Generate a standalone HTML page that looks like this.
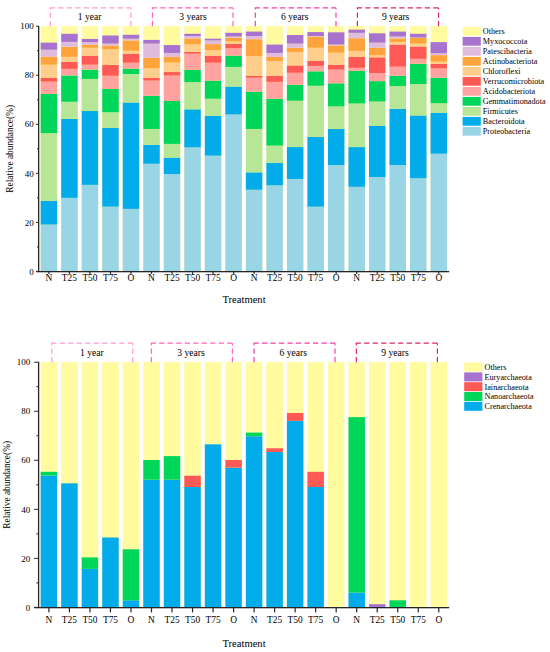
<!DOCTYPE html>
<html><head><meta charset="utf-8"><style>
html,body{margin:0;padding:0;background:#fff;}
svg{display:block;}
text{font-family:"Liberation Serif", serif;fill:#000;}
</style></head><body>
<svg width="550" height="652" viewBox="0 0 550 652">
<rect width="550" height="652" fill="#fff"/>
<rect x="40.65" y="26.2" width="16.5" height="245.2" fill="#fffb9e"/>
<rect x="40.65" y="224.57" width="16.5" height="46.83" fill="#9ad5e6"/>
<rect x="40.65" y="200.78" width="16.5" height="23.78" fill="#02abea"/>
<rect x="40.65" y="133.11" width="16.5" height="67.68" fill="#b7e697"/>
<rect x="40.65" y="93.88" width="16.5" height="39.23" fill="#00d75a"/>
<rect x="40.65" y="81.62" width="16.5" height="12.26" fill="#ffa2a0"/>
<rect x="40.65" y="77.69" width="16.5" height="3.92" fill="#ff5955"/>
<rect x="40.65" y="64.7" width="16.5" height="13" fill="#ffcd8c"/>
<rect x="40.65" y="56.6" width="16.5" height="8.09" fill="#ffa43c"/>
<rect x="40.65" y="49.74" width="16.5" height="6.87" fill="#dfbcdf"/>
<rect x="40.65" y="42.63" width="16.5" height="7.11" fill="#a872cf"/>
<rect x="61.17" y="26.2" width="16.5" height="245.2" fill="#fffb9e"/>
<rect x="61.17" y="197.84" width="16.5" height="73.56" fill="#9ad5e6"/>
<rect x="61.17" y="118.89" width="16.5" height="78.95" fill="#02abea"/>
<rect x="61.17" y="101.72" width="16.5" height="17.16" fill="#b7e697"/>
<rect x="61.17" y="75.49" width="16.5" height="26.24" fill="#00d75a"/>
<rect x="61.17" y="68.86" width="16.5" height="6.62" fill="#ffa2a0"/>
<rect x="61.17" y="62" width="16.5" height="6.87" fill="#ff5955"/>
<rect x="61.17" y="56.85" width="16.5" height="5.15" fill="#ffcd8c"/>
<rect x="61.17" y="46.8" width="16.5" height="10.05" fill="#ffa43c"/>
<rect x="61.17" y="41.89" width="16.5" height="4.9" fill="#dfbcdf"/>
<rect x="61.17" y="33.8" width="16.5" height="8.09" fill="#a872cf"/>
<rect x="81.69" y="26.2" width="16.5" height="245.2" fill="#fffb9e"/>
<rect x="81.69" y="184.84" width="16.5" height="86.56" fill="#9ad5e6"/>
<rect x="81.69" y="111.04" width="16.5" height="73.81" fill="#02abea"/>
<rect x="81.69" y="78.92" width="16.5" height="32.12" fill="#b7e697"/>
<rect x="81.69" y="69.6" width="16.5" height="9.32" fill="#00d75a"/>
<rect x="81.69" y="64.7" width="16.5" height="4.9" fill="#ffa2a0"/>
<rect x="81.69" y="55.62" width="16.5" height="9.07" fill="#ff5955"/>
<rect x="81.69" y="47.78" width="16.5" height="7.85" fill="#ffcd8c"/>
<rect x="81.69" y="44.84" width="16.5" height="2.94" fill="#ffa43c"/>
<rect x="81.69" y="42.14" width="16.5" height="2.7" fill="#dfbcdf"/>
<rect x="81.69" y="38.95" width="16.5" height="3.19" fill="#a872cf"/>
<rect x="102.21" y="26.2" width="16.5" height="245.2" fill="#fffb9e"/>
<rect x="102.21" y="206.67" width="16.5" height="64.73" fill="#9ad5e6"/>
<rect x="102.21" y="127.71" width="16.5" height="78.95" fill="#02abea"/>
<rect x="102.21" y="112.27" width="16.5" height="15.45" fill="#b7e697"/>
<rect x="102.21" y="88.97" width="16.5" height="23.29" fill="#00d75a"/>
<rect x="102.21" y="75.73" width="16.5" height="13.24" fill="#ffa2a0"/>
<rect x="102.21" y="64.94" width="16.5" height="10.79" fill="#ff5955"/>
<rect x="102.21" y="49.25" width="16.5" height="15.69" fill="#ffcd8c"/>
<rect x="102.21" y="45.57" width="16.5" height="3.68" fill="#ffa43c"/>
<rect x="102.21" y="43.61" width="16.5" height="1.96" fill="#dfbcdf"/>
<rect x="102.21" y="35.52" width="16.5" height="8.09" fill="#a872cf"/>
<rect x="122.73" y="26.2" width="16.5" height="245.2" fill="#fffb9e"/>
<rect x="122.73" y="208.87" width="16.5" height="62.53" fill="#9ad5e6"/>
<rect x="122.73" y="102.46" width="16.5" height="106.42" fill="#02abea"/>
<rect x="122.73" y="74.01" width="16.5" height="28.44" fill="#b7e697"/>
<rect x="122.73" y="68.62" width="16.5" height="5.39" fill="#00d75a"/>
<rect x="122.73" y="62.73" width="16.5" height="5.88" fill="#ffa2a0"/>
<rect x="122.73" y="53.66" width="16.5" height="9.07" fill="#ff5955"/>
<rect x="122.73" y="50.72" width="16.5" height="2.94" fill="#ffcd8c"/>
<rect x="122.73" y="40.42" width="16.5" height="10.3" fill="#ffa43c"/>
<rect x="122.73" y="38.71" width="16.5" height="1.72" fill="#dfbcdf"/>
<rect x="122.73" y="34.78" width="16.5" height="3.92" fill="#a872cf"/>
<rect x="143.25" y="26.2" width="16.5" height="245.2" fill="#fffb9e"/>
<rect x="143.25" y="163.76" width="16.5" height="107.64" fill="#9ad5e6"/>
<rect x="143.25" y="144.88" width="16.5" height="18.88" fill="#02abea"/>
<rect x="143.25" y="128.94" width="16.5" height="15.94" fill="#b7e697"/>
<rect x="143.25" y="95.84" width="16.5" height="33.1" fill="#00d75a"/>
<rect x="143.25" y="80.63" width="16.5" height="15.2" fill="#ffa2a0"/>
<rect x="143.25" y="77.69" width="16.5" height="2.94" fill="#ff5955"/>
<rect x="143.25" y="68.37" width="16.5" height="9.32" fill="#ffcd8c"/>
<rect x="143.25" y="57.83" width="16.5" height="10.54" fill="#ffa43c"/>
<rect x="143.25" y="43.61" width="16.5" height="14.22" fill="#dfbcdf"/>
<rect x="143.25" y="39.93" width="16.5" height="3.68" fill="#a872cf"/>
<rect x="163.77" y="26.2" width="16.5" height="245.2" fill="#fffb9e"/>
<rect x="163.77" y="174.06" width="16.5" height="97.34" fill="#9ad5e6"/>
<rect x="163.77" y="157.63" width="16.5" height="16.43" fill="#02abea"/>
<rect x="163.77" y="143.9" width="16.5" height="13.73" fill="#b7e697"/>
<rect x="163.77" y="100.99" width="16.5" height="42.91" fill="#00d75a"/>
<rect x="163.77" y="75.49" width="16.5" height="25.5" fill="#ffa2a0"/>
<rect x="163.77" y="72.05" width="16.5" height="3.43" fill="#ff5955"/>
<rect x="163.77" y="62.49" width="16.5" height="9.56" fill="#ffcd8c"/>
<rect x="163.77" y="56.85" width="16.5" height="5.64" fill="#ffa43c"/>
<rect x="163.77" y="52.93" width="16.5" height="3.92" fill="#dfbcdf"/>
<rect x="163.77" y="45.08" width="16.5" height="7.85" fill="#a872cf"/>
<rect x="184.29" y="26.2" width="16.5" height="245.2" fill="#fffb9e"/>
<rect x="184.29" y="147.33" width="16.5" height="124.07" fill="#9ad5e6"/>
<rect x="184.29" y="109.32" width="16.5" height="38.01" fill="#02abea"/>
<rect x="184.29" y="82.11" width="16.5" height="27.22" fill="#b7e697"/>
<rect x="184.29" y="69.85" width="16.5" height="12.26" fill="#00d75a"/>
<rect x="184.29" y="53.66" width="16.5" height="16.18" fill="#ffa2a0"/>
<rect x="184.29" y="51.95" width="16.5" height="1.72" fill="#ff5955"/>
<rect x="184.29" y="44.34" width="16.5" height="7.6" fill="#ffcd8c"/>
<rect x="184.29" y="38.46" width="16.5" height="5.88" fill="#ffa43c"/>
<rect x="184.29" y="36.01" width="16.5" height="2.45" fill="#dfbcdf"/>
<rect x="184.29" y="33.8" width="16.5" height="2.21" fill="#a872cf"/>
<rect x="204.81" y="26.2" width="16.5" height="245.2" fill="#fffb9e"/>
<rect x="204.81" y="155.67" width="16.5" height="115.73" fill="#9ad5e6"/>
<rect x="204.81" y="115.94" width="16.5" height="39.72" fill="#02abea"/>
<rect x="204.81" y="98.78" width="16.5" height="17.16" fill="#b7e697"/>
<rect x="204.81" y="80.63" width="16.5" height="18.14" fill="#00d75a"/>
<rect x="204.81" y="62.73" width="16.5" height="17.9" fill="#ffa2a0"/>
<rect x="204.81" y="55.62" width="16.5" height="7.11" fill="#ff5955"/>
<rect x="204.81" y="49.98" width="16.5" height="5.64" fill="#ffcd8c"/>
<rect x="204.81" y="44.1" width="16.5" height="5.88" fill="#ffa43c"/>
<rect x="204.81" y="40.42" width="16.5" height="3.68" fill="#dfbcdf"/>
<rect x="204.81" y="38.71" width="16.5" height="1.72" fill="#a872cf"/>
<rect x="225.33" y="26.2" width="16.5" height="245.2" fill="#fffb9e"/>
<rect x="225.33" y="114.47" width="16.5" height="156.93" fill="#9ad5e6"/>
<rect x="225.33" y="86.52" width="16.5" height="27.95" fill="#02abea"/>
<rect x="225.33" y="66.9" width="16.5" height="19.62" fill="#b7e697"/>
<rect x="225.33" y="55.62" width="16.5" height="11.28" fill="#00d75a"/>
<rect x="225.33" y="48.27" width="16.5" height="7.36" fill="#ffa2a0"/>
<rect x="225.33" y="43.85" width="16.5" height="4.41" fill="#ff5955"/>
<rect x="225.33" y="41.4" width="16.5" height="2.45" fill="#ffcd8c"/>
<rect x="225.33" y="37.72" width="16.5" height="3.68" fill="#ffa43c"/>
<rect x="225.33" y="36.5" width="16.5" height="1.23" fill="#dfbcdf"/>
<rect x="225.33" y="32.82" width="16.5" height="3.68" fill="#a872cf"/>
<rect x="245.85" y="26.2" width="16.5" height="245.2" fill="#fffb9e"/>
<rect x="245.85" y="189.75" width="16.5" height="81.65" fill="#9ad5e6"/>
<rect x="245.85" y="172.34" width="16.5" height="17.41" fill="#02abea"/>
<rect x="245.85" y="128.94" width="16.5" height="43.4" fill="#b7e697"/>
<rect x="245.85" y="91.67" width="16.5" height="37.27" fill="#00d75a"/>
<rect x="245.85" y="77.69" width="16.5" height="13.98" fill="#ffa2a0"/>
<rect x="245.85" y="75.73" width="16.5" height="1.96" fill="#ff5955"/>
<rect x="245.85" y="56.11" width="16.5" height="19.62" fill="#ffcd8c"/>
<rect x="245.85" y="39.2" width="16.5" height="16.92" fill="#ffa43c"/>
<rect x="245.85" y="36.01" width="16.5" height="3.19" fill="#dfbcdf"/>
<rect x="245.85" y="31.59" width="16.5" height="4.41" fill="#a872cf"/>
<rect x="266.37" y="26.2" width="16.5" height="245.2" fill="#fffb9e"/>
<rect x="266.37" y="185.33" width="16.5" height="86.07" fill="#9ad5e6"/>
<rect x="266.37" y="163.02" width="16.5" height="22.31" fill="#02abea"/>
<rect x="266.37" y="145.61" width="16.5" height="17.41" fill="#b7e697"/>
<rect x="266.37" y="98.78" width="16.5" height="46.83" fill="#00d75a"/>
<rect x="266.37" y="81.86" width="16.5" height="16.92" fill="#ffa2a0"/>
<rect x="266.37" y="75.73" width="16.5" height="6.13" fill="#ff5955"/>
<rect x="266.37" y="61.02" width="16.5" height="14.71" fill="#ffcd8c"/>
<rect x="266.37" y="56.85" width="16.5" height="4.17" fill="#ffa43c"/>
<rect x="266.37" y="52.93" width="16.5" height="3.92" fill="#dfbcdf"/>
<rect x="266.37" y="44.59" width="16.5" height="8.34" fill="#a872cf"/>
<rect x="286.89" y="26.2" width="16.5" height="245.2" fill="#fffb9e"/>
<rect x="286.89" y="178.96" width="16.5" height="92.44" fill="#9ad5e6"/>
<rect x="286.89" y="147.08" width="16.5" height="31.88" fill="#02abea"/>
<rect x="286.89" y="100.74" width="16.5" height="46.34" fill="#b7e697"/>
<rect x="286.89" y="84.8" width="16.5" height="15.94" fill="#00d75a"/>
<rect x="286.89" y="72.79" width="16.5" height="12.01" fill="#ffa2a0"/>
<rect x="286.89" y="65.43" width="16.5" height="7.36" fill="#ff5955"/>
<rect x="286.89" y="51.95" width="16.5" height="13.49" fill="#ffcd8c"/>
<rect x="286.89" y="47.78" width="16.5" height="4.17" fill="#ffa43c"/>
<rect x="286.89" y="43.61" width="16.5" height="4.17" fill="#dfbcdf"/>
<rect x="286.89" y="35.03" width="16.5" height="8.58" fill="#a872cf"/>
<rect x="307.41" y="26.2" width="16.5" height="245.2" fill="#fffb9e"/>
<rect x="307.41" y="206.67" width="16.5" height="64.73" fill="#9ad5e6"/>
<rect x="307.41" y="136.79" width="16.5" height="69.88" fill="#02abea"/>
<rect x="307.41" y="85.78" width="16.5" height="51" fill="#b7e697"/>
<rect x="307.41" y="71.32" width="16.5" height="14.47" fill="#00d75a"/>
<rect x="307.41" y="65.92" width="16.5" height="5.39" fill="#ffa2a0"/>
<rect x="307.41" y="60.77" width="16.5" height="5.15" fill="#ff5955"/>
<rect x="307.41" y="47.78" width="16.5" height="13" fill="#ffcd8c"/>
<rect x="307.41" y="36.74" width="16.5" height="11.03" fill="#ffa43c"/>
<rect x="307.41" y="36.01" width="16.5" height="0.74" fill="#dfbcdf"/>
<rect x="307.41" y="32.08" width="16.5" height="3.92" fill="#a872cf"/>
<rect x="327.93" y="26.2" width="16.5" height="245.2" fill="#fffb9e"/>
<rect x="327.93" y="164.98" width="16.5" height="106.42" fill="#9ad5e6"/>
<rect x="327.93" y="128.94" width="16.5" height="36.04" fill="#02abea"/>
<rect x="327.93" y="106.38" width="16.5" height="22.56" fill="#b7e697"/>
<rect x="327.93" y="83.33" width="16.5" height="23.05" fill="#00d75a"/>
<rect x="327.93" y="69.6" width="16.5" height="13.73" fill="#ffa2a0"/>
<rect x="327.93" y="64.7" width="16.5" height="4.9" fill="#ff5955"/>
<rect x="327.93" y="52.68" width="16.5" height="12.01" fill="#ffcd8c"/>
<rect x="327.93" y="45.57" width="16.5" height="7.11" fill="#ffa43c"/>
<rect x="327.93" y="44.59" width="16.5" height="0.98" fill="#dfbcdf"/>
<rect x="327.93" y="32.33" width="16.5" height="12.26" fill="#a872cf"/>
<rect x="348.45" y="26.2" width="16.5" height="245.2" fill="#fffb9e"/>
<rect x="348.45" y="186.81" width="16.5" height="84.59" fill="#9ad5e6"/>
<rect x="348.45" y="147.08" width="16.5" height="39.72" fill="#02abea"/>
<rect x="348.45" y="103.44" width="16.5" height="43.65" fill="#b7e697"/>
<rect x="348.45" y="70.83" width="16.5" height="32.61" fill="#00d75a"/>
<rect x="348.45" y="67.88" width="16.5" height="2.94" fill="#ffa2a0"/>
<rect x="348.45" y="56.85" width="16.5" height="11.03" fill="#ff5955"/>
<rect x="348.45" y="50.97" width="16.5" height="5.88" fill="#ffcd8c"/>
<rect x="348.45" y="38.21" width="16.5" height="12.75" fill="#ffa43c"/>
<rect x="348.45" y="32.82" width="16.5" height="5.39" fill="#dfbcdf"/>
<rect x="348.45" y="29.63" width="16.5" height="3.19" fill="#a872cf"/>
<rect x="368.97" y="26.2" width="16.5" height="245.2" fill="#fffb9e"/>
<rect x="368.97" y="177" width="16.5" height="94.4" fill="#9ad5e6"/>
<rect x="368.97" y="126" width="16.5" height="51" fill="#02abea"/>
<rect x="368.97" y="101.48" width="16.5" height="24.52" fill="#b7e697"/>
<rect x="368.97" y="81.12" width="16.5" height="20.35" fill="#00d75a"/>
<rect x="368.97" y="73.03" width="16.5" height="8.09" fill="#ffa2a0"/>
<rect x="368.97" y="57.34" width="16.5" height="15.69" fill="#ff5955"/>
<rect x="368.97" y="55.13" width="16.5" height="2.21" fill="#ffcd8c"/>
<rect x="368.97" y="47.78" width="16.5" height="7.36" fill="#ffa43c"/>
<rect x="368.97" y="42.63" width="16.5" height="5.15" fill="#dfbcdf"/>
<rect x="368.97" y="33.31" width="16.5" height="9.32" fill="#a872cf"/>
<rect x="389.49" y="26.2" width="16.5" height="245.2" fill="#fffb9e"/>
<rect x="389.49" y="164.98" width="16.5" height="106.42" fill="#9ad5e6"/>
<rect x="389.49" y="108.83" width="16.5" height="56.15" fill="#02abea"/>
<rect x="389.49" y="86.03" width="16.5" height="22.8" fill="#b7e697"/>
<rect x="389.49" y="75.73" width="16.5" height="10.3" fill="#00d75a"/>
<rect x="389.49" y="66.66" width="16.5" height="9.07" fill="#ffa2a0"/>
<rect x="389.49" y="44.59" width="16.5" height="22.07" fill="#ff5955"/>
<rect x="389.49" y="41.89" width="16.5" height="2.7" fill="#ffcd8c"/>
<rect x="389.49" y="38.46" width="16.5" height="3.43" fill="#ffa43c"/>
<rect x="389.49" y="36.5" width="16.5" height="1.96" fill="#dfbcdf"/>
<rect x="389.49" y="31.59" width="16.5" height="4.9" fill="#a872cf"/>
<rect x="410.01" y="26.2" width="16.5" height="245.2" fill="#fffb9e"/>
<rect x="410.01" y="178.22" width="16.5" height="93.18" fill="#9ad5e6"/>
<rect x="410.01" y="115.45" width="16.5" height="62.77" fill="#02abea"/>
<rect x="410.01" y="84.07" width="16.5" height="31.39" fill="#b7e697"/>
<rect x="410.01" y="63.72" width="16.5" height="20.35" fill="#00d75a"/>
<rect x="410.01" y="58.81" width="16.5" height="4.9" fill="#ffa2a0"/>
<rect x="410.01" y="46.55" width="16.5" height="12.26" fill="#ff5955"/>
<rect x="410.01" y="43.61" width="16.5" height="2.94" fill="#ffcd8c"/>
<rect x="410.01" y="37.97" width="16.5" height="5.64" fill="#ffa43c"/>
<rect x="410.01" y="37.48" width="16.5" height="0.49" fill="#dfbcdf"/>
<rect x="410.01" y="33.8" width="16.5" height="3.68" fill="#a872cf"/>
<rect x="430.53" y="26.2" width="16.5" height="245.2" fill="#fffb9e"/>
<rect x="430.53" y="153.7" width="16.5" height="117.7" fill="#9ad5e6"/>
<rect x="430.53" y="113" width="16.5" height="40.7" fill="#02abea"/>
<rect x="430.53" y="103.19" width="16.5" height="9.81" fill="#b7e697"/>
<rect x="430.53" y="77.69" width="16.5" height="25.5" fill="#00d75a"/>
<rect x="430.53" y="68.37" width="16.5" height="9.32" fill="#ffa2a0"/>
<rect x="430.53" y="63.96" width="16.5" height="4.41" fill="#ff5955"/>
<rect x="430.53" y="61.75" width="16.5" height="2.21" fill="#ffcd8c"/>
<rect x="430.53" y="55.13" width="16.5" height="6.62" fill="#ffa43c"/>
<rect x="430.53" y="53.17" width="16.5" height="1.96" fill="#dfbcdf"/>
<rect x="430.53" y="42.14" width="16.5" height="11.03" fill="#a872cf"/>
<rect x="38" y="25.9" width="1.3" height="246.1" fill="#262626"/>
<rect x="36.5" y="271" width="412.7" height="1.3" fill="#262626"/>
<rect x="36.05" y="270.9" width="2.6" height="1" fill="#262626"/>
<text transform="translate(33.8 274.6) scale(1 1.0)" text-anchor="end" font-size="9">0</text>
<rect x="37.05" y="246.38" width="1.6" height="1" fill="#262626"/>
<rect x="36.05" y="221.86" width="2.6" height="1" fill="#262626"/>
<text transform="translate(33.8 225.56) scale(1 1.0)" text-anchor="end" font-size="9">20</text>
<rect x="37.05" y="197.34" width="1.6" height="1" fill="#262626"/>
<rect x="36.05" y="172.82" width="2.6" height="1" fill="#262626"/>
<text transform="translate(33.8 176.52) scale(1 1.0)" text-anchor="end" font-size="9">40</text>
<rect x="37.05" y="148.3" width="1.6" height="1" fill="#262626"/>
<rect x="36.05" y="123.78" width="2.6" height="1" fill="#262626"/>
<text transform="translate(33.8 127.48) scale(1 1.0)" text-anchor="end" font-size="9">60</text>
<rect x="37.05" y="99.26" width="1.6" height="1" fill="#262626"/>
<rect x="36.05" y="74.74" width="2.6" height="1" fill="#262626"/>
<text transform="translate(33.8 78.44) scale(1 1.0)" text-anchor="end" font-size="9">80</text>
<rect x="37.05" y="50.22" width="1.6" height="1" fill="#262626"/>
<rect x="36.05" y="25.7" width="2.6" height="1" fill="#262626"/>
<text transform="translate(33.8 29.4) scale(1 1.0)" text-anchor="end" font-size="9">100</text>
<rect x="48.3" y="271.4" width="1.2" height="2.5" fill="#262626"/>
<text transform="translate(48.9 281.3) scale(1 1.0)" text-anchor="middle" font-size="9.4">N</text>
<rect x="68.82" y="271.4" width="1.2" height="2.5" fill="#262626"/>
<text transform="translate(69.42 281.3) scale(1 1.0)" text-anchor="middle" font-size="9.4">T25</text>
<rect x="89.34" y="271.4" width="1.2" height="2.5" fill="#262626"/>
<text transform="translate(89.94 281.3) scale(1 1.0)" text-anchor="middle" font-size="9.4">T50</text>
<rect x="109.86" y="271.4" width="1.2" height="2.5" fill="#262626"/>
<text transform="translate(110.46 281.3) scale(1 1.0)" text-anchor="middle" font-size="9.4">T75</text>
<rect x="130.38" y="271.4" width="1.2" height="2.5" fill="#262626"/>
<text transform="translate(130.98 281.3) scale(1 1.0)" text-anchor="middle" font-size="9.4">O</text>
<rect x="150.9" y="271.4" width="1.2" height="2.5" fill="#262626"/>
<text transform="translate(151.5 281.3) scale(1 1.0)" text-anchor="middle" font-size="9.4">N</text>
<rect x="171.42" y="271.4" width="1.2" height="2.5" fill="#262626"/>
<text transform="translate(172.02 281.3) scale(1 1.0)" text-anchor="middle" font-size="9.4">T25</text>
<rect x="191.94" y="271.4" width="1.2" height="2.5" fill="#262626"/>
<text transform="translate(192.54 281.3) scale(1 1.0)" text-anchor="middle" font-size="9.4">T50</text>
<rect x="212.46" y="271.4" width="1.2" height="2.5" fill="#262626"/>
<text transform="translate(213.06 281.3) scale(1 1.0)" text-anchor="middle" font-size="9.4">T75</text>
<rect x="232.98" y="271.4" width="1.2" height="2.5" fill="#262626"/>
<text transform="translate(233.58 281.3) scale(1 1.0)" text-anchor="middle" font-size="9.4">O</text>
<rect x="253.5" y="271.4" width="1.2" height="2.5" fill="#262626"/>
<text transform="translate(254.1 281.3) scale(1 1.0)" text-anchor="middle" font-size="9.4">N</text>
<rect x="274.02" y="271.4" width="1.2" height="2.5" fill="#262626"/>
<text transform="translate(274.62 281.3) scale(1 1.0)" text-anchor="middle" font-size="9.4">T25</text>
<rect x="294.54" y="271.4" width="1.2" height="2.5" fill="#262626"/>
<text transform="translate(295.14 281.3) scale(1 1.0)" text-anchor="middle" font-size="9.4">T50</text>
<rect x="315.06" y="271.4" width="1.2" height="2.5" fill="#262626"/>
<text transform="translate(315.66 281.3) scale(1 1.0)" text-anchor="middle" font-size="9.4">T75</text>
<rect x="335.58" y="271.4" width="1.2" height="2.5" fill="#262626"/>
<text transform="translate(336.18 281.3) scale(1 1.0)" text-anchor="middle" font-size="9.4">O</text>
<rect x="356.1" y="271.4" width="1.2" height="2.5" fill="#262626"/>
<text transform="translate(356.7 281.3) scale(1 1.0)" text-anchor="middle" font-size="9.4">N</text>
<rect x="376.62" y="271.4" width="1.2" height="2.5" fill="#262626"/>
<text transform="translate(377.22 281.3) scale(1 1.0)" text-anchor="middle" font-size="9.4">T25</text>
<rect x="397.14" y="271.4" width="1.2" height="2.5" fill="#262626"/>
<text transform="translate(397.74 281.3) scale(1 1.0)" text-anchor="middle" font-size="9.4">T50</text>
<rect x="417.66" y="271.4" width="1.2" height="2.5" fill="#262626"/>
<text transform="translate(418.26 281.3) scale(1 1.0)" text-anchor="middle" font-size="9.4">T75</text>
<rect x="438.18" y="271.4" width="1.2" height="2.5" fill="#262626"/>
<text transform="translate(438.78 281.3) scale(1 1.0)" text-anchor="middle" font-size="9.4">O</text>
<text transform="translate(244 302.7) scale(1 1.0)" text-anchor="middle" font-size="10.6">Treatment</text>
<text transform="translate(12.8 148.8) rotate(-90) scale(1 1.0)" text-anchor="middle" font-size="9.4">Relative abundance(%)</text>
<path d="M50.4 26.2 V7.8 M49.8 7.8 H130.9 M130.9 26.2 V7.8" fill="none" stroke="#ff9ad0" stroke-width="1.2" stroke-dasharray="5.2 3.3"/>
<text transform="translate(89.6 19.9) scale(1 1.0)" text-anchor="middle" font-size="9.6">1 year</text>
<path d="M152.4 26.2 V7.8 M151.8 7.8 H233 M233 26.2 V7.8" fill="none" stroke="#ff62b8" stroke-width="1.2" stroke-dasharray="5.2 3.3"/>
<text transform="translate(193 19.9) scale(1 1.0)" text-anchor="middle" font-size="9.6">3 years</text>
<path d="M255.3 26.2 V7.8 M254.7 7.8 H336 M336 26.2 V7.8" fill="none" stroke="#f43ea6" stroke-width="1.2" stroke-dasharray="5.2 3.3"/>
<text transform="translate(294.7 19.9) scale(1 1.0)" text-anchor="middle" font-size="9.6">6 years</text>
<path d="M357.4 26.2 V7.8 M356.8 7.8 H438.5 M438.5 26.2 V7.8" fill="none" stroke="#dc2468" stroke-width="1.2" stroke-dasharray="5.2 3.3"/>
<text transform="translate(395.6 19.9) scale(1 1.0)" text-anchor="middle" font-size="9.6">9 years</text>
<rect x="462.6" y="26.9" width="18.2" height="8.8" fill="#fffb9e"/>
<text transform="translate(482.8 34.2) scale(1 1.0)" text-anchor="start" font-size="8.2">Others</text>
<rect x="462.6" y="36.9" width="18.2" height="8.8" fill="#a872cf"/>
<text transform="translate(482.8 44.2) scale(1 1.0)" text-anchor="start" font-size="8.2">Myxococcota</text>
<rect x="462.6" y="46.9" width="18.2" height="8.8" fill="#dfbcdf"/>
<text transform="translate(482.8 54.2) scale(1 1.0)" text-anchor="start" font-size="8.2">Patescibacteria</text>
<rect x="462.6" y="56.9" width="18.2" height="8.8" fill="#ffa43c"/>
<text transform="translate(482.8 64.2) scale(1 1.0)" text-anchor="start" font-size="8.2">Actinobacteriota</text>
<rect x="462.6" y="66.9" width="18.2" height="8.8" fill="#ffcd8c"/>
<text transform="translate(482.8 74.2) scale(1 1.0)" text-anchor="start" font-size="8.2">Chloroflexi</text>
<rect x="462.6" y="76.9" width="18.2" height="8.8" fill="#ff5955"/>
<text transform="translate(482.8 84.2) scale(1 1.0)" text-anchor="start" font-size="8.2">Verrucomicrobiota</text>
<rect x="462.6" y="86.9" width="18.2" height="8.8" fill="#ffa2a0"/>
<text transform="translate(482.8 94.2) scale(1 1.0)" text-anchor="start" font-size="8.2">Acidobacteriota</text>
<rect x="462.6" y="96.9" width="18.2" height="8.8" fill="#00d75a"/>
<text transform="translate(482.8 104.2) scale(1 1.0)" text-anchor="start" font-size="8.2">Gemmatimonadota</text>
<rect x="462.6" y="106.9" width="18.2" height="8.8" fill="#b7e697"/>
<text transform="translate(482.8 114.2) scale(1 1.0)" text-anchor="start" font-size="8.2">Firmicutes</text>
<rect x="462.6" y="116.9" width="18.2" height="8.8" fill="#02abea"/>
<text transform="translate(482.8 124.2) scale(1 1.0)" text-anchor="start" font-size="8.2">Bacteroidota</text>
<rect x="462.6" y="126.9" width="18.2" height="8.8" fill="#9ad5e6"/>
<text transform="translate(482.8 134.2) scale(1 1.0)" text-anchor="start" font-size="8.2">Proteobacteria</text>
<rect x="40.65" y="362.2" width="16.5" height="245.2" fill="#fffb9e"/>
<rect x="40.65" y="475.48" width="16.5" height="131.92" fill="#02abea"/>
<rect x="40.65" y="471.8" width="16.5" height="3.68" fill="#00d75a"/>
<rect x="61.17" y="362.2" width="16.5" height="245.2" fill="#fffb9e"/>
<rect x="61.17" y="483.33" width="16.5" height="124.07" fill="#02abea"/>
<rect x="81.69" y="362.2" width="16.5" height="245.2" fill="#fffb9e"/>
<rect x="81.69" y="568.9" width="16.5" height="38.5" fill="#02abea"/>
<rect x="81.69" y="557.38" width="16.5" height="11.52" fill="#00d75a"/>
<rect x="102.21" y="362.2" width="16.5" height="245.2" fill="#fffb9e"/>
<rect x="102.21" y="537.52" width="16.5" height="69.88" fill="#02abea"/>
<rect x="122.73" y="362.2" width="16.5" height="245.2" fill="#fffb9e"/>
<rect x="122.73" y="600.29" width="16.5" height="7.11" fill="#02abea"/>
<rect x="122.73" y="549.29" width="16.5" height="51" fill="#00d75a"/>
<rect x="143.25" y="362.2" width="16.5" height="245.2" fill="#fffb9e"/>
<rect x="143.25" y="479.65" width="16.5" height="127.75" fill="#02abea"/>
<rect x="143.25" y="460.03" width="16.5" height="19.62" fill="#00d75a"/>
<rect x="163.77" y="362.2" width="16.5" height="245.2" fill="#fffb9e"/>
<rect x="163.77" y="479.65" width="16.5" height="127.75" fill="#02abea"/>
<rect x="163.77" y="456.11" width="16.5" height="23.54" fill="#00d75a"/>
<rect x="184.29" y="362.2" width="16.5" height="245.2" fill="#fffb9e"/>
<rect x="184.29" y="487.01" width="16.5" height="120.39" fill="#02abea"/>
<rect x="184.29" y="475.73" width="16.5" height="11.28" fill="#ff5955"/>
<rect x="204.81" y="362.2" width="16.5" height="245.2" fill="#fffb9e"/>
<rect x="204.81" y="444.34" width="16.5" height="163.06" fill="#02abea"/>
<rect x="225.33" y="362.2" width="16.5" height="245.2" fill="#fffb9e"/>
<rect x="225.33" y="467.64" width="16.5" height="139.76" fill="#02abea"/>
<rect x="225.33" y="460.03" width="16.5" height="7.6" fill="#ff5955"/>
<rect x="245.85" y="362.2" width="16.5" height="245.2" fill="#fffb9e"/>
<rect x="245.85" y="436.25" width="16.5" height="171.15" fill="#02abea"/>
<rect x="245.85" y="432.57" width="16.5" height="3.68" fill="#00d75a"/>
<rect x="266.37" y="362.2" width="16.5" height="245.2" fill="#fffb9e"/>
<rect x="266.37" y="451.94" width="16.5" height="155.46" fill="#02abea"/>
<rect x="266.37" y="448.27" width="16.5" height="3.68" fill="#ff5955"/>
<rect x="286.89" y="362.2" width="16.5" height="245.2" fill="#fffb9e"/>
<rect x="286.89" y="420.8" width="16.5" height="186.6" fill="#02abea"/>
<rect x="286.89" y="412.96" width="16.5" height="7.85" fill="#ff5955"/>
<rect x="307.41" y="362.2" width="16.5" height="245.2" fill="#fffb9e"/>
<rect x="307.41" y="487.01" width="16.5" height="120.39" fill="#02abea"/>
<rect x="307.41" y="471.8" width="16.5" height="15.2" fill="#ff5955"/>
<rect x="327.93" y="362.2" width="16.5" height="245.2" fill="#fffb9e"/>
<rect x="348.45" y="362.2" width="16.5" height="245.2" fill="#fffb9e"/>
<rect x="348.45" y="592.44" width="16.5" height="14.96" fill="#02abea"/>
<rect x="348.45" y="417.12" width="16.5" height="175.32" fill="#00d75a"/>
<rect x="368.97" y="362.2" width="16.5" height="245.2" fill="#fffb9e"/>
<rect x="368.97" y="604.21" width="16.5" height="3.19" fill="#a872cf"/>
<rect x="389.49" y="362.2" width="16.5" height="245.2" fill="#fffb9e"/>
<rect x="389.49" y="600.29" width="16.5" height="7.11" fill="#00d75a"/>
<rect x="410.01" y="362.2" width="16.5" height="245.2" fill="#fffb9e"/>
<rect x="430.53" y="362.2" width="16.5" height="245.2" fill="#fffb9e"/>
<rect x="37.95" y="361.9" width="1.3" height="246.1" fill="#262626"/>
<rect x="34.2" y="607" width="415" height="1.3" fill="#262626"/>
<rect x="34.2" y="606.9" width="4.4" height="1" fill="#262626"/>
<text transform="translate(30.3 610.6) scale(1 1.0)" text-anchor="end" font-size="9">0</text>
<rect x="36.4" y="582.38" width="2.2" height="1" fill="#262626"/>
<rect x="34.2" y="557.86" width="4.4" height="1" fill="#262626"/>
<text transform="translate(30.3 561.56) scale(1 1.0)" text-anchor="end" font-size="9">20</text>
<rect x="36.4" y="533.34" width="2.2" height="1" fill="#262626"/>
<rect x="34.2" y="508.82" width="4.4" height="1" fill="#262626"/>
<text transform="translate(30.3 512.52) scale(1 1.0)" text-anchor="end" font-size="9">40</text>
<rect x="36.4" y="484.3" width="2.2" height="1" fill="#262626"/>
<rect x="34.2" y="459.78" width="4.4" height="1" fill="#262626"/>
<text transform="translate(30.3 463.48) scale(1 1.0)" text-anchor="end" font-size="9">60</text>
<rect x="36.4" y="435.26" width="2.2" height="1" fill="#262626"/>
<rect x="34.2" y="410.74" width="4.4" height="1" fill="#262626"/>
<text transform="translate(30.3 414.44) scale(1 1.0)" text-anchor="end" font-size="9">80</text>
<rect x="36.4" y="386.22" width="2.2" height="1" fill="#262626"/>
<rect x="34.2" y="361.7" width="4.4" height="1" fill="#262626"/>
<text transform="translate(30.3 365.4) scale(1 1.0)" text-anchor="end" font-size="9">100</text>
<rect x="48.3" y="607.4" width="1.2" height="5" fill="#262626"/>
<text transform="translate(48.9 623.2) scale(1 1.0)" text-anchor="middle" font-size="9.4">N</text>
<rect x="68.82" y="607.4" width="1.2" height="5" fill="#262626"/>
<text transform="translate(69.42 623.2) scale(1 1.0)" text-anchor="middle" font-size="9.4">T25</text>
<rect x="89.34" y="607.4" width="1.2" height="5" fill="#262626"/>
<text transform="translate(89.94 623.2) scale(1 1.0)" text-anchor="middle" font-size="9.4">T50</text>
<rect x="109.86" y="607.4" width="1.2" height="5" fill="#262626"/>
<text transform="translate(110.46 623.2) scale(1 1.0)" text-anchor="middle" font-size="9.4">T75</text>
<rect x="130.38" y="607.4" width="1.2" height="5" fill="#262626"/>
<text transform="translate(130.98 623.2) scale(1 1.0)" text-anchor="middle" font-size="9.4">O</text>
<rect x="150.9" y="607.4" width="1.2" height="5" fill="#262626"/>
<text transform="translate(151.5 623.2) scale(1 1.0)" text-anchor="middle" font-size="9.4">N</text>
<rect x="171.42" y="607.4" width="1.2" height="5" fill="#262626"/>
<text transform="translate(172.02 623.2) scale(1 1.0)" text-anchor="middle" font-size="9.4">T25</text>
<rect x="191.94" y="607.4" width="1.2" height="5" fill="#262626"/>
<text transform="translate(192.54 623.2) scale(1 1.0)" text-anchor="middle" font-size="9.4">T50</text>
<rect x="212.46" y="607.4" width="1.2" height="5" fill="#262626"/>
<text transform="translate(213.06 623.2) scale(1 1.0)" text-anchor="middle" font-size="9.4">T75</text>
<rect x="232.98" y="607.4" width="1.2" height="5" fill="#262626"/>
<text transform="translate(233.58 623.2) scale(1 1.0)" text-anchor="middle" font-size="9.4">O</text>
<rect x="253.5" y="607.4" width="1.2" height="5" fill="#262626"/>
<text transform="translate(254.1 623.2) scale(1 1.0)" text-anchor="middle" font-size="9.4">N</text>
<rect x="274.02" y="607.4" width="1.2" height="5" fill="#262626"/>
<text transform="translate(274.62 623.2) scale(1 1.0)" text-anchor="middle" font-size="9.4">T25</text>
<rect x="294.54" y="607.4" width="1.2" height="5" fill="#262626"/>
<text transform="translate(295.14 623.2) scale(1 1.0)" text-anchor="middle" font-size="9.4">T50</text>
<rect x="315.06" y="607.4" width="1.2" height="5" fill="#262626"/>
<text transform="translate(315.66 623.2) scale(1 1.0)" text-anchor="middle" font-size="9.4">T75</text>
<rect x="335.58" y="607.4" width="1.2" height="5" fill="#262626"/>
<text transform="translate(336.18 623.2) scale(1 1.0)" text-anchor="middle" font-size="9.4">O</text>
<rect x="356.1" y="607.4" width="1.2" height="5" fill="#262626"/>
<text transform="translate(356.7 623.2) scale(1 1.0)" text-anchor="middle" font-size="9.4">N</text>
<rect x="376.62" y="607.4" width="1.2" height="5" fill="#262626"/>
<text transform="translate(377.22 623.2) scale(1 1.0)" text-anchor="middle" font-size="9.4">T25</text>
<rect x="397.14" y="607.4" width="1.2" height="5" fill="#262626"/>
<text transform="translate(397.74 623.2) scale(1 1.0)" text-anchor="middle" font-size="9.4">T50</text>
<rect x="417.66" y="607.4" width="1.2" height="5" fill="#262626"/>
<text transform="translate(418.26 623.2) scale(1 1.0)" text-anchor="middle" font-size="9.4">T75</text>
<rect x="438.18" y="607.4" width="1.2" height="5" fill="#262626"/>
<text transform="translate(438.78 623.2) scale(1 1.0)" text-anchor="middle" font-size="9.4">O</text>
<text transform="translate(244 647.3) scale(1 1.0)" text-anchor="middle" font-size="10.6">Treatment</text>
<text transform="translate(10.2 484.8) rotate(-90) scale(1 1.0)" text-anchor="middle" font-size="9.4">Relative abundance(%)</text>
<path d="M51.8 362.2 V343.2 M51.2 343.2 H132.7 M132.7 362.2 V343.2" fill="none" stroke="#ff9ad0" stroke-width="1.2" stroke-dasharray="5.2 3.3"/>
<text transform="translate(91.8 355.6) scale(1 1.0)" text-anchor="middle" font-size="9.6">1 year</text>
<path d="M151.3 362.2 V343.2 M150.7 343.2 H232.4 M232.4 362.2 V343.2" fill="none" stroke="#ff62b8" stroke-width="1.2" stroke-dasharray="5.2 3.3"/>
<text transform="translate(190.9 355.6) scale(1 1.0)" text-anchor="middle" font-size="9.6">3 years</text>
<path d="M254.1 362.2 V343.2 M253.5 343.2 H335 M335 362.2 V343.2" fill="none" stroke="#f43ea6" stroke-width="1.2" stroke-dasharray="5.2 3.3"/>
<text transform="translate(293.2 355.6) scale(1 1.0)" text-anchor="middle" font-size="9.6">6 years</text>
<path d="M356.3 362.2 V343.2 M355.7 343.2 H437.4 M437.4 362.2 V343.2" fill="none" stroke="#dc2468" stroke-width="1.2" stroke-dasharray="5.2 3.3"/>
<text transform="translate(395 355.6) scale(1 1.0)" text-anchor="middle" font-size="9.6">9 years</text>
<rect x="464.2" y="362.6" width="18.2" height="9" fill="#fffb9e"/>
<text transform="translate(484.5 370) scale(1 1.0)" text-anchor="start" font-size="8.2">Others</text>
<rect x="464.2" y="372.4" width="18.2" height="9" fill="#a872cf"/>
<text transform="translate(484.5 379.8) scale(1 1.0)" text-anchor="start" font-size="8.2">Euryarchaeota</text>
<rect x="464.2" y="382.2" width="18.2" height="9" fill="#ff5955"/>
<text transform="translate(484.5 389.6) scale(1 1.0)" text-anchor="start" font-size="8.2">Iainarchaeota</text>
<rect x="464.2" y="392" width="18.2" height="9" fill="#00d75a"/>
<text transform="translate(484.5 399.4) scale(1 1.0)" text-anchor="start" font-size="8.2">Nanoarchaeota</text>
<rect x="464.2" y="401.8" width="18.2" height="9" fill="#02abea"/>
<text transform="translate(484.5 409.2) scale(1 1.0)" text-anchor="start" font-size="8.2">Crenarchaeota</text>
</svg>
</body></html>
